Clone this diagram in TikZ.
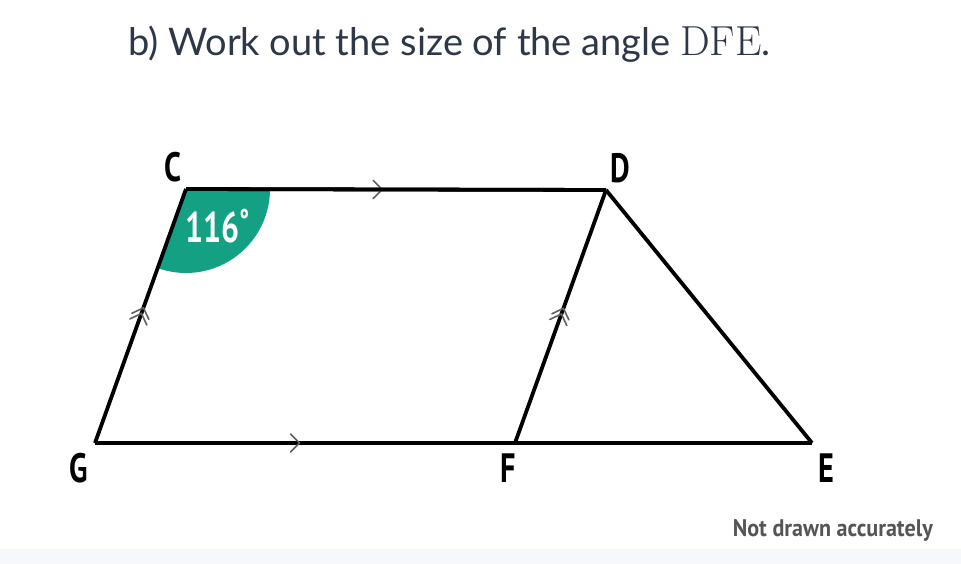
\documentclass[tikz,border=0pt]{standalone}
\usepackage{fontspec}
\setmainfont{Lato}
\newfontfamily\labfont[FakeStretch=0.74]{PT Sans}
\newfontfamily\notefont[FakeStretch=0.92]{PT Sans}
\newfontfamily\lmr{Latin Modern Roman}
\usetikzlibrary{decorations.markings}
\definecolor{titlecol}{RGB}{45,55,72}
\definecolor{sectorcol}{RGB}{19,160,131}
\definecolor{tickcol}{RGB}{95,95,95}
\definecolor{notecol}{RGB}{85,85,85}
\definecolor{bandcol}{RGB}{246,248,251}
\tikzset{
  edge/.style={line width=3.8pt, line join=miter},
  vlabel/.style={font=\labfont\bfseries\fontsize{41}{41}\selectfont, inner sep=0pt},
  chev/.style={draw=tickcol, line width=1.6pt, line cap=round},
  onearrow/.style={postaction={decorate}, decoration={markings, mark=at position #1 with {\draw[chev] (-6,-9) -- (3,0) -- (-6,9);}}},
  twoarrow/.style={postaction={decorate}, decoration={markings, mark=at position #1 with {\draw[chev] (-9,-9) -- (0,0) -- (-9,9); \draw[chev] (-3,-9) -- (6,0) -- (-3,9);}}}
}
\begin{document}
\begin{tikzpicture}[x=1pt,y=-1pt]
\useasboundingbox (0,0) rectangle (961,564);
\fill[white] (0,0) rectangle (961,564);
\fill[bandcol] (0,549) rectangle (961,564);
\draw[bandcol!80!gray!40] (0,549) -- (961,549);

\node[anchor=base west, inner sep=0pt, text=titlecol, font=\fontsize{38}{38}\selectfont] (title) at (128,56) {b) Work out the size of the angle {\lmr\fontsize{42}{42}\selectfont DFE}.};

\coordinate (C) at (186,189);
\coordinate (D) at (606,190);
\coordinate (G) at (95,443);
\coordinate (F) at (515,443);
\coordinate (E) at (812,443);

\fill[sectorcol] (C) -- ++(0:84) arc[start angle=0, end angle=109.7, radius=84] -- cycle;
\node[text=white, font=\labfont\bfseries\fontsize{43}{43}\selectfont, inner sep=0pt, anchor=base west] (ang) at (185,243) {116\raisebox{0.3em}{\fontsize{30}{30}\selectfont °}};

\draw[edge, onearrow=0.46] (C) -- (D);
\draw[edge, onearrow=0.48] (G) -- (F);
\draw[edge] (F) -- (E);
\draw[edge, twoarrow=0.51] (G) -- (C);
\draw[edge, twoarrow=0.51] (F) -- (D);
\draw[edge] (D) -- (E);
\draw[edge] (C) -- (D);

\node[vlabel, anchor=base] (lC) at (173,182) {C};
\node[vlabel, anchor=base] (lD) at (620,183) {D};
\node[vlabel, anchor=base] (lG) at (79,482) {G};
\node[vlabel, anchor=base] (lF) at (508,482) {F};
\node[vlabel, anchor=base] (lE) at (826,482) {E};

\node[anchor=base east, inner sep=0pt, text=notecol, font=\notefont\bfseries\fontsize{24}{24}\selectfont] (note) at (933,536) {Not drawn accurately};
\end{tikzpicture}
\end{document}
